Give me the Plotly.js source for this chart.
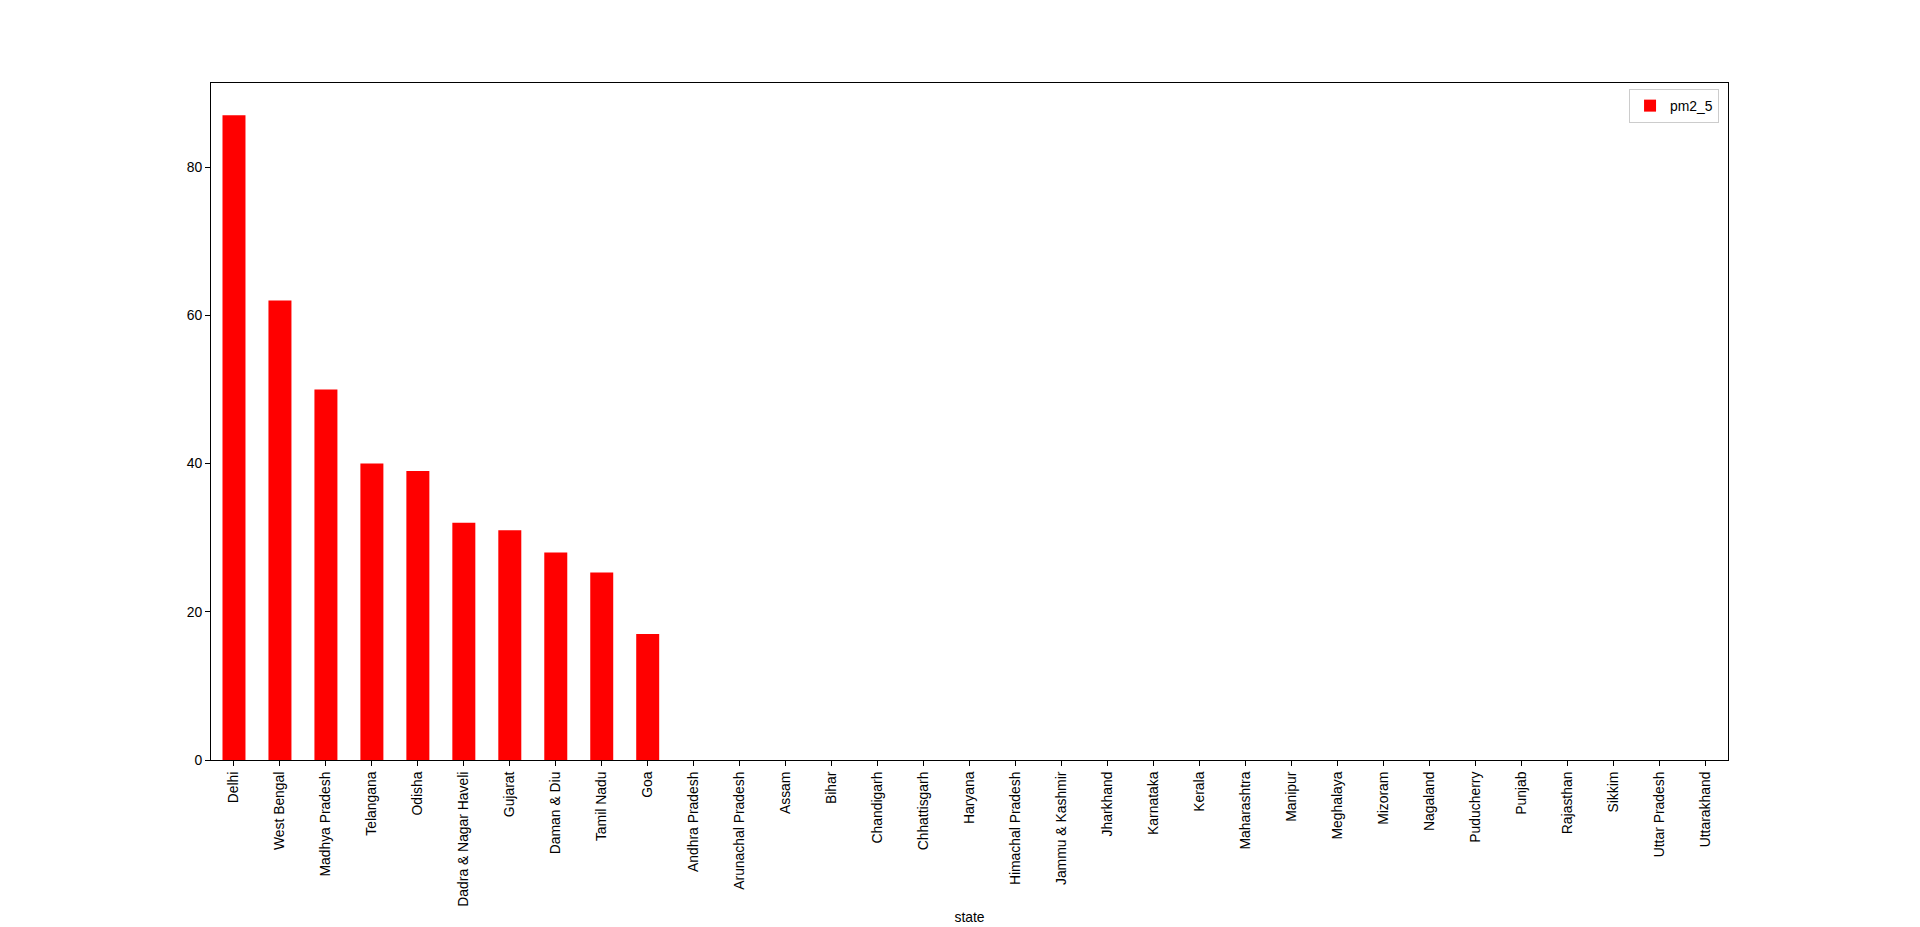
<!DOCTYPE html>
<html>
<head>
<meta charset="utf-8">
<script src="https://cdn.plot.ly/plotly-3.0.1.min.js"></script>
<style>html,body{margin:0;padding:0;background:#fff;}#chart{width:1920px;height:927px;}</style>
</head>
<body>
<div id="chart"></div>
<script>
const states = ["Delhi", "West Bengal", "Madhya Pradesh", "Telangana", "Odisha",
  "Dadra & Nagar Haveli", "Gujarat", "Daman & Diu", "Tamil Nadu", "Goa",
  "Andhra Pradesh", "Arunachal Pradesh", "Assam", "Bihar", "Chandigarh",
  "Chhattisgarh", "Haryana", "Himachal Pradesh", "Jammu & Kashmir", "Jharkhand",
  "Karnataka", "Kerala", "Maharashtra", "Manipur", "Meghalaya", "Mizoram",
  "Nagaland", "Puducherry", "Punjab", "Rajasthan", "Sikkim", "Uttar Pradesh",
  "Uttarakhand"];
const pm2_5 = [87, 62, 50, 40, 39, 32, 31, 28, 25.3, 17,
  0, 0, 0, 0, 0, 0, 0, 0, 0, 0, 0, 0, 0, 0, 0, 0, 0, 0, 0, 0, 0, 0, 0];
const seriesName = "pm2_5";
const yTicks = [0, 20, 40, 60, 80];

const FONT = "Liberation Sans, Arial, Helvetica, sans-serif";

const trace = {
  type: "bar",
  x: states,
  y: pm2_5,
  name: seriesName,
  width: 0.5,
  marker: {color: "#ff0000", line: {width: 0}},
  hoverinfo: "x+y"
};

const layout = {
  width: 1920,
  height: 927,
  margin: {l: 211, r: 192, t: 83, b: 167, pad: 0},
  paper_bgcolor: "#ffffff",
  plot_bgcolor: "#ffffff",
  font: {family: FONT, size: 13.9, color: "#000000"},
  showlegend: true,
  legend: {
    x: 0.9941, y: 0.991, xanchor: "right", yanchor: "top",
    bgcolor: "rgba(255,255,255,0.8)",
    bordercolor: "#cccccc", borderwidth: 1,
    font: {family: FONT, size: 13.9, color: "#000000"}
  },
  xaxis: {
    type: "category",
    range: [-0.5, states.length - 0.5],
    tickangle: -90,
    ticks: "outside", ticklen: 5, tickwidth: 1.1, tickcolor: "#000000",
    showline: true, linecolor: "#000000", linewidth: 1.1, mirror: true,
    showgrid: false, zeroline: false,
    tickfont: {family: FONT, size: 13.9, color: "#000000"},
    title: {text: "state", standoff: 6, font: {family: FONT, size: 13.9, color: "#000000"}},
    automargin: false
  },
  yaxis: {
    range: [0, 91.35],
    tickvals: yTicks,
    ticktext: yTicks.map(String),
    ticks: "outside", ticklen: 5, tickwidth: 1.1, tickcolor: "#000000",
    showline: true, linecolor: "#000000", linewidth: 1.1, mirror: true,
    showgrid: false, zeroline: false,
    tickfont: {family: FONT, size: 13.9, color: "#000000"},
    automargin: false
  }
};

Plotly.newPlot("chart", [trace], layout, {displayModeBar: false, staticPlot: false});
</script>
</body>
</html>
